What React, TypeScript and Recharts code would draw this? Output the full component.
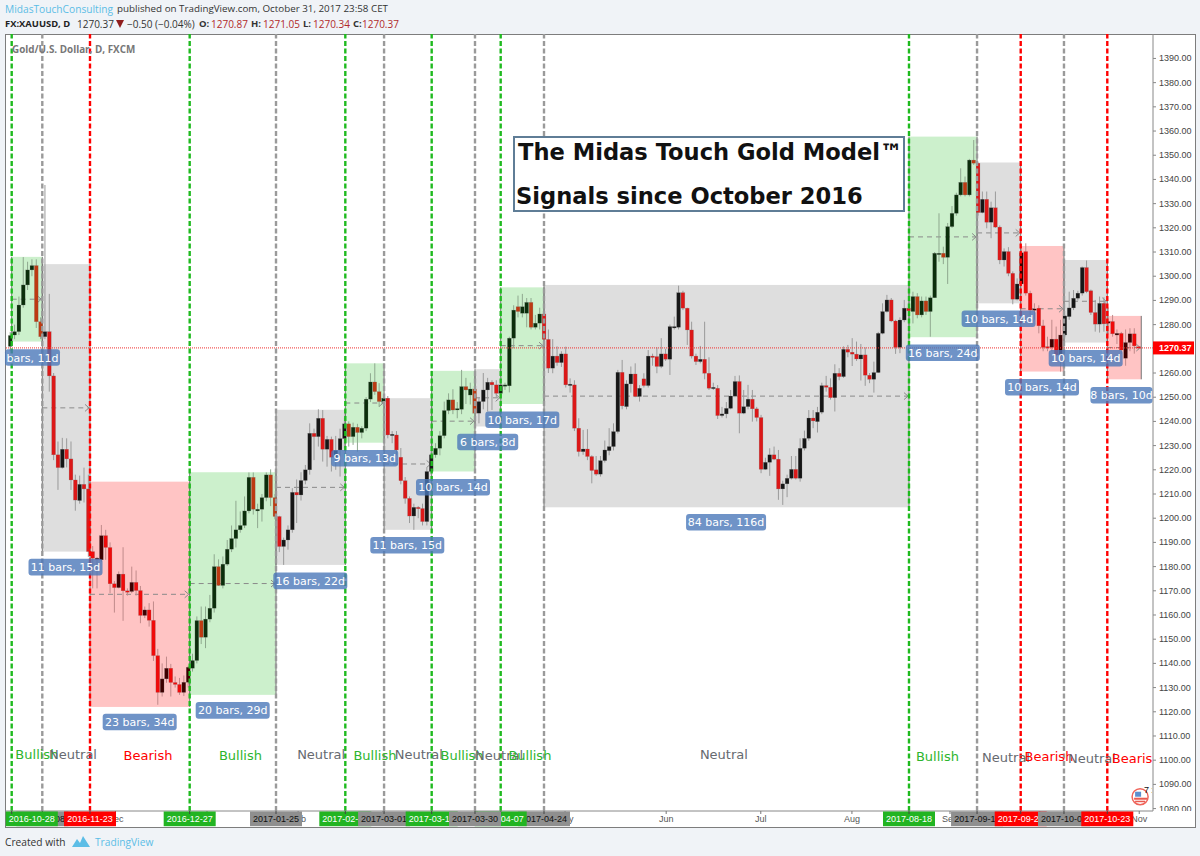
import React from "react";
import { ComposedChart, Bar, XAxis, YAxis, ReferenceArea, ReferenceLine, ReferenceDot } from "recharts";

const opens = [
  1271,1275.7,1277.1,1288.1,1296.4,1302.6,1304.4,1281.2,1275,1277.1,
  1258.8,1226.2,1220.9,1228.5,1224.5,1215.8,1207.3,1214,1212.1,1186.2,
  1183.2,1182.8,1192.8,1187.9,1172.9,1171.3,1176.9,1170,1169.7,1173.5,
  1170.1,1159.8,1162.1,1157.8,1143.2,1128,1133.6,1138,1132.1,1131.3,
  1128,1132.2,1138,1141.2,1157.7,1150.8,1158.3,1162.8,1180,1172.2,
  1181,1187.2,1191.6,1195.2,1197,1203,1216.9,1203,1203.7,1208.5,
  1217.9,1208.5,1200.7,1188.3,1191,1195.2,1210.7,1209.6,1215.6,1220,
  1235.1,1233.7,1241.3,1228.5,1232.6,1225.2,1228.2,1232.9,1239,1233.7,
  1237.6,1235.4,1237.2,1249.2,1256.3,1252.3,1248.2,1249.6,1234.4,1234.4,
  1225.2,1215.5,1208.2,1200.9,1204.5,1204,1198.6,1219.3,1226.2,1228.9,
  1234.1,1244.5,1248.9,1245,1245,1254.4,1250.9,1253.4,1243.4,1248.2,
  1253,1256.2,1255.1,1251.6,1254.7,1254.7,1274.4,1287.4,1284.7,1284.7,
  1289.2,1278.9,1280.6,1284.4,1273.9,1262,1267,1264.3,1267.9,1255.1,
  1255.1,1237.2,1227.5,1228.6,1225.5,1220,1218.2,1223.8,1227.9,1229.6,
  1235.8,1260.3,1246.1,1255.5,1259.6,1250.3,1257.6,1254.8,1267,1266.8,
  1262.7,1267.9,1265.7,1278.9,1278.9,1293.2,1286.8,1277.8,1267,1264.7,
  1265.7,1259.9,1253.7,1253.7,1242.4,1243.1,1245.4,1250.5,1256.5,1243.4,
  1246.1,1249.2,1245.2,1241.6,1220.2,1223.1,1226.2,1224.4,1212.1,1214.2,
  1216.5,1220.2,1216.5,1228.9,1233,1241.4,1239.9,1243.8,1254.8,1254.1,
  1249.8,1259.9,1258.5,1269.8,1268.6,1267.8,1265.8,1267.5,1259.1,1257.4,
  1260.2,1276.4,1285.4,1290.2,1281.5,1270.6,1281.9,1286.8,1285.4,1291.6,
  1284,1289.8,1285.4,1291.1,1309.3,1309.5,1307.8,1320.5,1326,1333.6,
  1338.8,1333.6,1348,1346.7,1326.3,1331.8,1322.3,1328.3,1320.3,1306.7,
  1310.2,1301.2,1290.5,1296.8,1310.2,1293,1286,1286.8,1279.5,1270.9,
  1270.6,1274,1267.5,1275.7,1283.3,1286.9,1290.9,1293,1303.6,1294,
  1285,1280.2,1288.8,1280.6,1281.3,1275.7,1276.4,1266.1,1272.6,1276.2,1270.87,
];
const highs = [
  1277,1280,1291.6,1307.9,1306,1307,1307,1283,1337.7,1292.7,
  1260,1231.7,1233.2,1233,1231.7,1218,1217.6,1220.9,1218,1188.5,
  1184,1197.2,1195.2,1190,1174,1178,1188,1171,1180,1178.4,
  1172,1163.5,1164.9,1165.6,1146,1140,1142.8,1139.8,1134.6,1134,
  1135,1139,1144,1159.4,1163.5,1163.5,1168.3,1185.1,1183,1184.2,
  1191,1197,1207.2,1202.8,1209,1218.9,1218.9,1206,1210,1218.9,
  1220.2,1210,1201,1192,1197,1212.4,1216,1219,1222,1239.2,
  1237,1245,1244.7,1234,1233.7,1234,1237,1241.5,1240,1239.5,
  1239,1238,1250,1259.9,1264,1255.8,1251,1250.5,1236,1236,
  1229,1217,1209,1206,1205,1206,1221,1228,1231,1236,
  1248.2,1251.6,1253.3,1248,1261.3,1258,1256,1256,1250,1260,
  1258,1257,1257,1258.5,1256,1275,1288,1292,1292.7,1291,
  1291,1284,1287,1286,1278,1274,1271,1269,1270.9,1257.8,
  1257,1241.3,1236.5,1236.8,1226,1225.7,1225.7,1232.1,1237.2,1239.2,
  1261.3,1265.4,1257,1262.7,1264,1255,1259.9,1269.5,1268,1270.6,
  1274.4,1270,1280,1283.3,1296.1,1294,1287,1281.2,1268,1271.2,
  1281.2,1266.5,1256,1255,1246,1248,1253,1258.8,1259,1253,
  1255.1,1253,1246,1242.7,1225,1228.9,1229.6,1228.2,1215.5,1218,
  1225.7,1225.7,1233,1236.2,1244.7,1244.7,1246,1256,1258.8,1257.8,
  1263.6,1262,1271,1271.6,1274.4,1273,1272,1270.6,1260,1264.7,
  1277,1288.8,1292.3,1291,1282,1283,1290.2,1288,1293.6,1293,
  1291.6,1291.6,1292,1310,1326,1312.2,1322,1329,1334.5,1344.6,
  1341.2,1348.5,1356.3,1347,1335,1335,1330.8,1335,1321,1311.5,
  1312,1302,1299.1,1311,1313.6,1294,1288.8,1288,1282,1275,
  1282,1279.2,1282,1284,1293.6,1294.3,1294,1304,1306.5,1294.5,
  1290.2,1291.6,1291.3,1287,1284,1278,1277,1278,1278.5,1278.5,1271.05,
];
const lows = [
  1269,1274,1275.7,1287,1294.3,1300,1278.6,1274,1274,1252.3,
  1224,1211.7,1220.5,1221,1211.7,1203.1,1206,1206.5,1184,1171,
  1171,1182,1182.8,1169,1161,1171,1157.6,1168,1169,1168,
  1156.6,1158.7,1155.2,1141,1122.9,1126.3,1132,1126.3,1130,1127,
  1126.5,1130,1136.6,1140,1148,1146.3,1157,1161,1172,1171,
  1180.3,1186,1187.9,1194,1195.9,1202,1201.5,1195.9,1198.6,1207,
  1205,1199.5,1186,1180.7,1187,1194,1198,1207.3,1214,1218,
  1224,1229.6,1223.4,1221.3,1219.3,1220,1217.2,1229,1229.6,1230.3,
  1227.5,1233,1236,1248,1251,1246,1246,1233,1231,1226,
  1214,1206,1198,1195.2,1200,1197,1197,1218,1225,1226,
  1233,1243,1243,1241.3,1243,1247.2,1247,1241,1239.2,1245,
  1244.1,1244.7,1250,1247.5,1253,1252,1270.2,1283,1283,1278.9,
  1278,1278,1278,1273,1260,1259.9,1263,1262.5,1254,1251.9,
  1236,1225.5,1226.2,1224,1214.4,1217.5,1217.2,1223,1226,1228,
  1235,1245,1245,1251.9,1250,1248.2,1254,1254,1263,1259.9,
  1262,1265,1259.2,1278,1278,1286,1271.6,1266,1263.3,1264,
  1257.4,1253,1253,1241,1241.6,1241.3,1245,1250,1235.1,1243,
  1245,1239.9,1240,1218.6,1220,1217.5,1224,1207.6,1205.5,1208.7,
  1216,1216,1215.1,1228,1232,1237.2,1235.4,1243,1252.3,1249,
  1244.1,1257,1258,1266.5,1262.9,1265,1256.9,1254.7,1255.8,1251.9,
  1260,1276,1285,1281,1267.9,1268.2,1281,1284,1280.5,1282.6,
  1283,1284,1275,1291,1306,1305,1296.8,1320,1325,1333,
  1333,1333,1346,1325,1326,1319.8,1315.7,1320,1305,1304,
  1300,1288.4,1290,1296,1292,1284,1282,1276.4,1269,1269,
  1269,1267,1260.6,1275,1282,1286,1290,1292,1293,1284,
  1277.1,1276.7,1277.1,1276,1275,1272,1268,1263,1269,1268,1270.34,
];
const closes = [
  1275.5,1277.1,1288.1,1296.4,1302.6,1304.4,1281.2,1275,1277.1,1258.8,
  1226.2,1220.9,1228.5,1224.5,1215.8,1207.5,1214,1212.1,1186.2,1183.5,
  1183.5,1192.8,1187.9,1172.9,1171.3,1176.9,1170,1169.4,1173.5,1170.1,
  1159.8,1162.1,1157.8,1143.2,1128,1133.6,1138,1132.1,1131.3,1128,
  1132.2,1138.4,1141.2,1157.7,1150.8,1158.3,1162.8,1180,1172.2,1181,
  1187.2,1191.6,1195.2,1197,1203,1216.9,1203.7,1203.7,1208.5,1217.9,
  1208.5,1200.7,1188.3,1191,1195.2,1210.7,1209.6,1215.6,1220,1235.1,
  1233.7,1241.3,1228.5,1232.6,1225.2,1228,1232.9,1239,1233.7,1237.6,
  1235.4,1237.2,1249.2,1256.3,1252.3,1248.2,1249.6,1234.4,1234.7,1228.2,
  1215.5,1208.2,1200.9,1204.5,1204,1198.6,1219.3,1226.2,1228.9,1234.1,
  1244.5,1248.9,1244.7,1245.3,1254.4,1253,1253.4,1243.4,1248.2,1253,
  1256.2,1255.1,1251.6,1255.1,1255.1,1274.4,1286,1285.4,1287.4,1289.2,
  1278.9,1280.6,1284.4,1273.9,1262,1267,1264.3,1267.9,1255.1,1255.4,
  1237.2,1227.5,1228.6,1225.5,1219.7,1218.2,1223.8,1228.2,1229.6,1235.8,
  1260.3,1246.4,1255.5,1259.6,1250.3,1253.7,1254.8,1267,1266.8,1262.7,
  1267.9,1265.7,1279.2,1279.2,1293.2,1286.8,1277.8,1267,1264.7,1265.7,
  1259.9,1253.7,1254.1,1242.4,1243.1,1245.4,1250.5,1256.5,1243.4,1246.1,
  1249.2,1245.2,1241.6,1220.2,1223.1,1226.2,1224.4,1212.1,1214.2,1216.5,
  1220.2,1216.5,1228.9,1233,1241.4,1240.2,1243.8,1254.8,1254.1,1249.8,
  1259.9,1258.5,1269.8,1268.6,1267.8,1265.8,1267.5,1259.1,1257.4,1260.2,
  1276.4,1285.4,1290.2,1281.5,1270.6,1281.9,1286.8,1285.7,1291.6,1284,
  1289.8,1285.4,1291.1,1309.5,1309.5,1307.8,1320.5,1326,1333.6,1338.8,
  1333.6,1348,1346.7,1326.3,1331.8,1322.3,1328.3,1320.3,1306.7,1310.2,
  1301.2,1290.5,1296.8,1309.7,1293,1286,1286.5,1279.5,1270.6,1270.5,
  1274,1267.5,1275.7,1283.6,1286.9,1290.9,1293,1303.6,1293.6,1285,
  1280.2,1288.8,1280.3,1281.3,1276.2,1276.4,1269.5,1272.6,1276.2,1271.2,1270.37,
];

const table = opens.map((o, i) => ({ bar: i, o, h: highs[i], l: lows[i], c: closes[i] }));

// signal boundaries, in bar positions, plus the state of each period
const signalBars = [0.3, 7.35, 18.34, 41.31, 61.2, 77.17, 86.1, 97.07, 107.05, 112.97, 122.95, 207.05, 222.73, 232.79, 242.76, 252.74];
const signalKinds = ["up", "flat", "down", "up", "flat", "up", "flat", "up", "flat", "up", "flat", "up", "flat", "down", "flat", "down"];
const signalDates = ["2016-10-28", "2016-11-08", "2016-11-23", "2016-12-27", "2017-01-25", "2017-02-16", "2017-03-01", "2017-03-16", "2017-03-30", "2017-04-07", "2017-04-24", "2017-08-18", "2017-09-11", "2017-09-25", "2017-10-09", "2017-10-23"];
const badgeOrder = [1, 0, 2, 3, 4, 5, 6, 7, 10, 9, 8, 11, 12, 13, 14, 15];
const lastBar = 260.57;
const boxTops = [1308, 1305, 1215.1, 1219, 1244.8, 1264, 1249.6, 1260.9, 1261.6, 1295.4, 1296.4, 1357.7, 1347, 1312.5, 1306.7, 1283.6];
const boxBottoms = [1273, 1186.2, 1122, 1127, 1180.7, 1231.2, 1195.2, 1219.3, 1237.9, 1247.2, 1204.5, 1274.8, 1288.8, 1260.6, 1272.6, 1257.4];

const rangeTexts = ["bars, 11d", "11 bars, 15d", "23 bars, 34d", "20 bars, 29d", "16 bars, 22d", "9 bars, 13d", "11 bars, 15d", "10 bars, 14d", "6 bars, 8d", "10 bars, 17d", "84 bars, 116d", "16 bars, 24d", "10 bars, 14d", "10 bars, 14d", "10 bars, 14d", "8 bars, 10d"];
const rangeBars = [5.09, 12.7, 29.79, 51.22, 69.1, 81.64, 91.45, 101.98, 109.98, 117.95, 164.9, 214.84, 227.7, 237.7, 247.76, 256.0];
const rangePrices = [1266.4, 1179.8, 1115.8, 1120.6, 1174.1, 1224.8, 1188.8, 1212.8, 1231.5, 1240.7, 1198.3, 1268.4, 1282.4, 1254.1, 1266.1, 1250.8];
const rangeWidths = [55, 74, 74, 74, 74, 67, 74, 74, 61, 74, 80, 74, 74, 74, 74, 62];

const stateTexts = ["Bullish", "Neutral", "Bearish", "Bullish", "Neutral", "Bullish", "Neutral", "Bullish", "Neutral", "Bullish", "Neutral", "Bullish", "Neutral", "Bearish", "Neutral", "Bearish"];
const stateBars = [6.1, 14.42, 31.7, 53.0, 71.6, 84.0, 94.1, 104.06, 112.6, 119.7, 164.4, 213.6, 229.4, 239.3, 249.2, 259.4];
const statePrices = [1102.4, 1102.4, 1102.2, 1102.2, 1102.4, 1102.2, 1102.4, 1102.2, 1102, 1102.2, 1102.4, 1101.8, 1101.4, 1101.8, 1101, 1101];

const monthNames = ["Dec", "Jan", "Feb", "Mar", "Apr", "May", "Jun", "Jul", "Aug", "Sep", "Oct", "Nov"];
const monthBars = [24.2, 45.3, 66.3, 85.8, 107.5, 127.8, 151.1, 172.9, 193.9, 216.5, 237.2, 260.1];
const priceTicks = [1080, 1090, 1100, 1110, 1120, 1130, 1140, 1150, 1160, 1170, 1180, 1190, 1200, 1210, 1220, 1230, 1240, 1250, 1260, 1270, 1280, 1290, 1300, 1310, 1320, 1330, 1340, 1350, 1360, 1370, 1380, 1390];
const lastPrice = 1270.37;

const FONT = "'Liberation Sans', Arial, sans-serif";
const LABEL_FONT = "'DejaVu Sans', sans-serif";
const KIND_FILL: Record<string, string> = { up: "rgb(33,190,33)", down: "rgb(255,0,0)", flat: "rgb(128,128,128)" };
const KIND_LINE: Record<string, string> = { up: "#1fba1f", down: "#ff0000", flat: "#9a9a9a" };
const KIND_BADGE: Record<string, string> = { up: "#22b422", down: "#ff0000", flat: "#8f8f8f" };
const KIND_BADGE_TEXT: Record<string, string> = { up: "#ffffff", down: "#ffffff", flat: "#111111" };
const STATE_COLOR: Record<string, string> = { Bullish: "#2db52d", Bearish: "#ff0000", Neutral: "#666a70" };
// candle colours as seen through each tinted period
const BODY_UP: Record<string, string> = { up: "#0b2e0b", down: "#3d0000", flat: "#161616" };
const BODY_DOWN: Record<string, string> = { up: "#bd3a12", down: "#f00a0a", flat: "#dc1818" };
const WICK: Record<string, string> = { up: "#8fa88f", down: "#c08a8a", flat: "#9a9a9a" };

const kindOf = (bar: number) => {
  let k = signalKinds[0];
  signalBars.forEach((b, i) => { if (bar >= b) k = signalKinds[i]; });
  return k;
};

const Candle = (p: any) => {
  const d = p.payload;
  const span = d.h - d.l;
  const k = span > 0 ? Math.abs(p.height) / span : 0;
  const cx = p.x + p.width / 2;
  const top = Math.min(p.y, p.y + p.height);
  const yo = top + (d.h - Math.max(d.o, d.c)) * k;
  const bh = Math.max(Math.abs(d.o - d.c) * k, 1.4);
  const up = d.c >= d.o;
  const kind = kindOf(d.bar);
  return (
    <g>
      <line x1={cx} x2={cx} y1={top} y2={top + Math.abs(p.height)} stroke={WICK[kind]} strokeWidth={1} />
      <rect x={cx - 1.9} y={yo} width={3.8} height={bh} fill={up ? BODY_UP[kind] : BODY_DOWN[kind]} stroke="#777" strokeOpacity={0.5} strokeWidth={0.4} />
    </g>
  );
};

const BoxShape = (p: any) => {
  const mid = p.y + p.height / 2;
  const right = p.x + p.width;
  return (
    <g>
      <rect x={p.x} y={p.y} width={p.width} height={p.height} fill={p.fill} fillOpacity={p.fillOpacity} stroke="none" />
      <line x1={p.x} x2={p.x} y1={p.y} y2={p.y + p.height} stroke="#777" strokeWidth={1} />
      <line x1={right} x2={right} y1={p.y} y2={p.y + p.height} stroke="#777" strokeWidth={1} />
      <line x1={p.x} x2={right - 1} y1={mid} y2={mid} stroke="#8a8a8a" strokeWidth={1} strokeDasharray="5 4" />
      <path d={`M${right - 5} ${mid - 3.5} L${right - 1} ${mid} L${right - 5} ${mid + 3.5}`} fill="none" stroke="#8a8a8a" strokeWidth={1} />
    </g>
  );
};

const RangeBadge = (p: any) => {
  const w = p.w;
  return (
    <g>
      <rect x={p.cx - w / 2} y={p.cy - 8.3} width={w} height={16.6} rx={3} fill="rgb(75,120,185)" fillOpacity={0.8} />
      <text x={p.cx} y={p.cy + 4} textAnchor="middle" fill="#ffffff" fontSize={11} fontFamily={LABEL_FONT}>{p.text}</text>
    </g>
  );
};

const StateText = (p: any) => (
  <g clipPath="url(#plotClip)">
    <clipPath id="plotClip"><rect x={0} y={0} width={1152} height={856} /></clipPath>
    <text x={p.cx} y={p.cy + 5} textAnchor="middle" fill={STATE_COLOR[p.text]} fontSize={13} fontFamily={LABEL_FONT}>{p.text}</text>
  </g>
);

const FlagIcon = (p: any) => (
  <g clipPath="url(#flagClip)">
    <clipPath id="flagClip"><rect x={0} y={0} width={1152} height={856} /></clipPath>
    <circle cx={p.cx} cy={p.cy} r={8} fill="#fff" stroke="#f0645a" strokeWidth={1.5} />
    <rect x={p.cx - 5} y={p.cy - 5} width={6} height={5} fill="#5b8fd0" />
    <rect x={p.cx - 6} y={p.cy + 1} width={13} height={2} fill="#e85a50" />
    <rect x={p.cx - 5} y={p.cy + 4} width={10} height={1.5} fill="#e85a50" />
    <text x={p.cx + 4} y={p.cy - 4} fontSize={9} fill="#111" fontFamily={FONT}>7 x</text>
  </g>
);

const XTick = (p: any) => {
  const v = p.payload.value;
  const m = monthBars.indexOf(v);
  if (m >= 0) {
    return (
      <g>
        <line x1={p.x} x2={p.x} y1={811} y2={814} stroke="#777" />
        <text x={p.x} y={822} textAnchor="middle" fontSize={9} fill="#555" fontFamily={FONT}>{monthNames[m]}</text>
      </g>
    );
  }
  const s = signalBars.indexOf(v);
  if (s < 0) return null;
  const kind = signalKinds[s];
  const cx = Math.max(p.x, 31.8); // the first date label is held inside the chart's left edge
  return (
    <g>
      <rect x={cx - 26} y={811.5} width={52} height={14.7} fill={KIND_BADGE[kind]} />
      <line x1={p.x} x2={p.x} y1={811} y2={814} stroke="#444" />
      <text x={cx} y={822} textAnchor="middle" fontSize={9} fill={KIND_BADGE_TEXT[kind]} fontFamily={FONT}>{signalDates[s]}</text>
    </g>
  );
};

const YTick = (p: any) => {
  const v = p.payload.value;
  if (v === lastPrice) {
    return (
      <g>
        <rect x={1153} y={p.y - 6.5} width={41} height={13} fill="#ff0000" />
        <text x={1159} y={p.y + 3} fontSize={9} fontWeight="bold" fill="#fff" fontFamily={FONT}>{v.toFixed(2)}</text>
      </g>
    );
  }
  return (
    <g clipPath={v === 1080 ? "url(#axisBottomClip)" : undefined}>
      {v === 1080 ? <clipPath id="axisBottomClip"><rect x={1153} y={34} width={42} height={777} /></clipPath> : null}
      <text x={1159} y={p.y + 3} fontSize={9} fill="#444" fontFamily={FONT}>{v.toFixed(2)}</text>
    </g>
  );
};

const xTickList = [...monthBars, ...badgeOrder.map((i) => signalBars[i])];

const spanStyle = (left: number, top: number, extra: React.CSSProperties = {}): React.CSSProperties => ({
  position: "absolute", left, top, fontFamily: "'Open Sans', sans-serif", fontSize: 10, lineHeight: "14px", whiteSpace: "nowrap", color: "#333", ...extra,
});
const VAL = { color: "#b02a2a" };
const KEY: React.CSSProperties = { fontWeight: 700, fontSize: 9.5 };

export default function App() {
  return (
    <div style={{ position: "absolute", left: 0, top: 0, width: 1200, height: 856, overflow: "hidden", background: "#f0f3f7" }}>
      <span style={spanStyle(5, 2, { color: "#5cbde6", fontSize: 10.2 })}>MidasTouchConsulting</span>
      <span style={spanStyle(117, 2, { fontSize: 9.8 })}>published on TradingView.com, October 31, 2017 23:58 CET</span>
      <span style={spanStyle(5, 17, { fontWeight: 700, fontSize: 9.4, color: "#222" })}>FX:XAUUSD, D</span>
      <span style={spanStyle(77, 17)}>1270.37</span>
      <span style={{ position: "absolute", left: 116, top: 20, width: 0, height: 0, borderLeft: "4px solid transparent", borderRight: "4px solid transparent", borderTop: "8px solid #8f1d1d" }} />
      <span style={spanStyle(127, 17)}>−0.50 (−0.04%)</span>
      <span style={spanStyle(199, 17, KEY)}>O:</span>
      <span style={spanStyle(211, 17, VAL)}>1270.87</span>
      <span style={spanStyle(251, 17, KEY)}>H:</span>
      <span style={spanStyle(263, 17, VAL)}>1271.05</span>
      <span style={spanStyle(303, 17, KEY)}>L:</span>
      <span style={spanStyle(313, 17, VAL)}>1270.34</span>
      <span style={spanStyle(353, 17, KEY)}>C:</span>
      <span style={spanStyle(362, 17, VAL)}>1270.37</span>

      <div style={{ position: "absolute", left: 5, top: 34, width: 1189, height: 792, background: "#fff", border: "1px solid #7d7d7d", boxSizing: "content-box" }} />

      <div style={{ position: "absolute", left: 0, top: 0 }}>
        <ComposedChart width={1200} height={856} data={table} margin={{ top: 34, left: 5, right: 5, bottom: 30 }} barCategoryGap={0} barGap={0}>
          <XAxis xAxisId="cat" dataKey="bar" type="category" scale="band" hide height={0} padding={{ left: 3.23, right: 12.03 }} />
          <XAxis
            xAxisId="pos"
            dataKey="bar"
            type="number"
            domain={[-1.244, 263.272]}
            allowDataOverflow
            ticks={xTickList}
            interval={0}
            height={15}
            tick={<XTick />}
            tickLine={false}
            axisLine={{ stroke: "#888" }}
          />
          <YAxis
            orientation="right"
            width={42}
            domain={[1079, 1400.1]}
            allowDataOverflow
            ticks={[...priceTicks, lastPrice]}
            interval={0}
            tick={<YTick />}
            tickSize={3}
            tickMargin={3}
            tickLine={{ stroke: "#888" }}
            axisLine={{ stroke: "#888" }}
          />
          <Bar xAxisId="cat" dataKey={(d: any) => [d.l, d.h]} shape={<Candle />} isAnimationActive={false} />
          {signalBars.map((b, i) => (
            <ReferenceArea
              key={`box${i}`}
              xAxisId="pos"
              x1={b}
              x2={i + 1 < signalBars.length ? signalBars[i + 1] : lastBar}
              y1={boxBottoms[i]}
              y2={boxTops[i]}
              fill={KIND_FILL[signalKinds[i]]}
              fillOpacity={signalKinds[i] === "flat" ? 0.26 : 0.23}
              shape={<BoxShape />}
              ifOverflow="visible"
            />
          ))}
          <ReferenceLine y={lastPrice} xAxisId="pos" stroke="#f03030" strokeWidth={1} strokeDasharray="1 1" />
          {signalBars.map((b, i) => (
            <ReferenceLine key={`sig${i}`} xAxisId="pos" x={b} stroke={KIND_LINE[signalKinds[i]]} strokeWidth={2.4} strokeDasharray="5 2.5" />
          ))}
          {rangeTexts.map((t, i) => (
            <ReferenceDot key={`rng${i}`} xAxisId="pos" x={rangeBars[i]} y={rangePrices[i]} r={0} ifOverflow="visible" shape={(p: any) => <RangeBadge {...p} text={t} w={rangeWidths[i]} />} />
          ))}
          {stateTexts.map((t, i) => (
            <ReferenceDot key={`st${i}`} xAxisId="pos" x={stateBars[i]} y={statePrices[i]} r={0} ifOverflow="visible" shape={(p: any) => <StateText {...p} text={t} />} />
          ))}
          <ReferenceDot xAxisId="pos" x={260.3} y={1084.9} r={0} ifOverflow="visible" shape={(p: any) => <FlagIcon {...p} />} />
        </ComposedChart>
      </div>

      <span style={spanStyle(12, 42, { color: "#777", fontWeight: 700, fontSize: 9.9 })}>Gold/U.S. Dollar, D, FXCM</span>

      <div style={{ position: "absolute", left: 513, top: 136, width: 392, height: 76, background: "#fff", border: "2px solid #5f7d96", boxSizing: "border-box" }}>
        <div style={{ position: "absolute", left: 3, top: 1, fontFamily: "'DejaVu Sans', sans-serif", fontWeight: 700, fontSize: 22.6, color: "#111", whiteSpace: "nowrap" }}>The Midas Touch Gold Model™</div>
        <div style={{ position: "absolute", left: 1, top: 45, fontFamily: "'DejaVu Sans', sans-serif", fontWeight: 700, fontSize: 22.6, color: "#111", whiteSpace: "nowrap" }}>Signals since October 2016</div>
      </div>

      <span style={spanStyle(5, 835, { fontSize: 10.2 })}>Created with</span>
      <svg style={{ position: "absolute", left: 70, top: 834 }} width={22} height={15}>
        <path d="M2 13 L7 5 L10 9 L13 2 L20 13 Z" fill="#5cbde6" />
      </svg>
      <span style={spanStyle(95, 835, { color: "#5cbde6", fontSize: 10.2 })}>TradingView</span>
    </div>
  );
}
